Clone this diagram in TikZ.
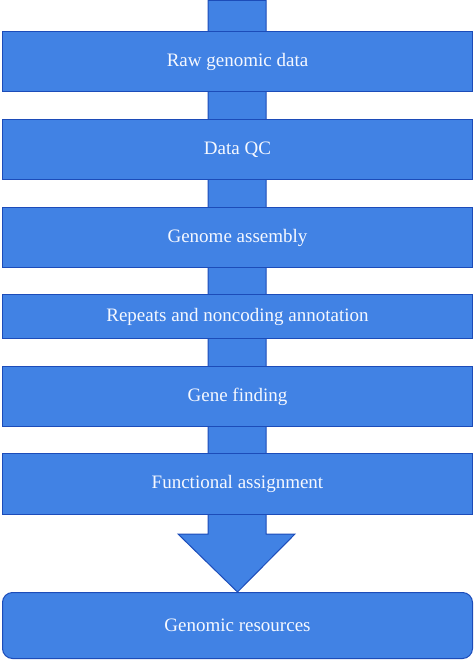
\documentclass[tikz,border=0pt]{standalone}
\usepackage{fontspec}
\setmainfont{Liberation Serif}
\definecolor{boxfill}{RGB}{65,130,228}
\definecolor{boxline}{RGB}{28,76,185}
\definecolor{boxtext}{RGB}{245,248,255}
\begin{document}
\begin{tikzpicture}[x=1pt,y=-1pt,
  stagebox/.style={draw=boxline,fill=boxfill,line width=1pt,minimum width=470pt,
    inner sep=0pt,text=boxtext,font=\fontsize{19}{22}\selectfont,anchor=north west},
  bigarrow/.style={draw=boxline,fill=boxfill,line width=1pt,line join=miter}]
\useasboundingbox (0,0) rectangle (474,660);
% big arrow (behind the boxes)
\coordinate (top) at (237,0.5);
\node[stagebox,minimum height=66pt,rounded corners=10pt] (res) at (2,592) {Genomic resources};
\draw[bigarrow] ([xshift=-29pt]top) -- ([xshift=29pt]top) -- (266,534) -- (295,534) -- (res.north) -- (178,534) -- (208,534) -- cycle;
\node[stagebox,minimum height=60pt] (raw) at (2,31) {Raw genomic data};
\node[stagebox,minimum height=60pt] (qc) at (2,119) {Data QC};
\node[stagebox,minimum height=60pt] (asm) at (2,207) {Genome assembly};
\node[stagebox,minimum height=44pt] (rep) at (2,294) {Repeats and noncoding annotation};
\node[stagebox,minimum height=60pt] (gene) at (2,366) {Gene finding};
\node[stagebox,minimum height=61pt] (func) at (2,453) {Functional assignment};
\end{tikzpicture}
\end{document}
